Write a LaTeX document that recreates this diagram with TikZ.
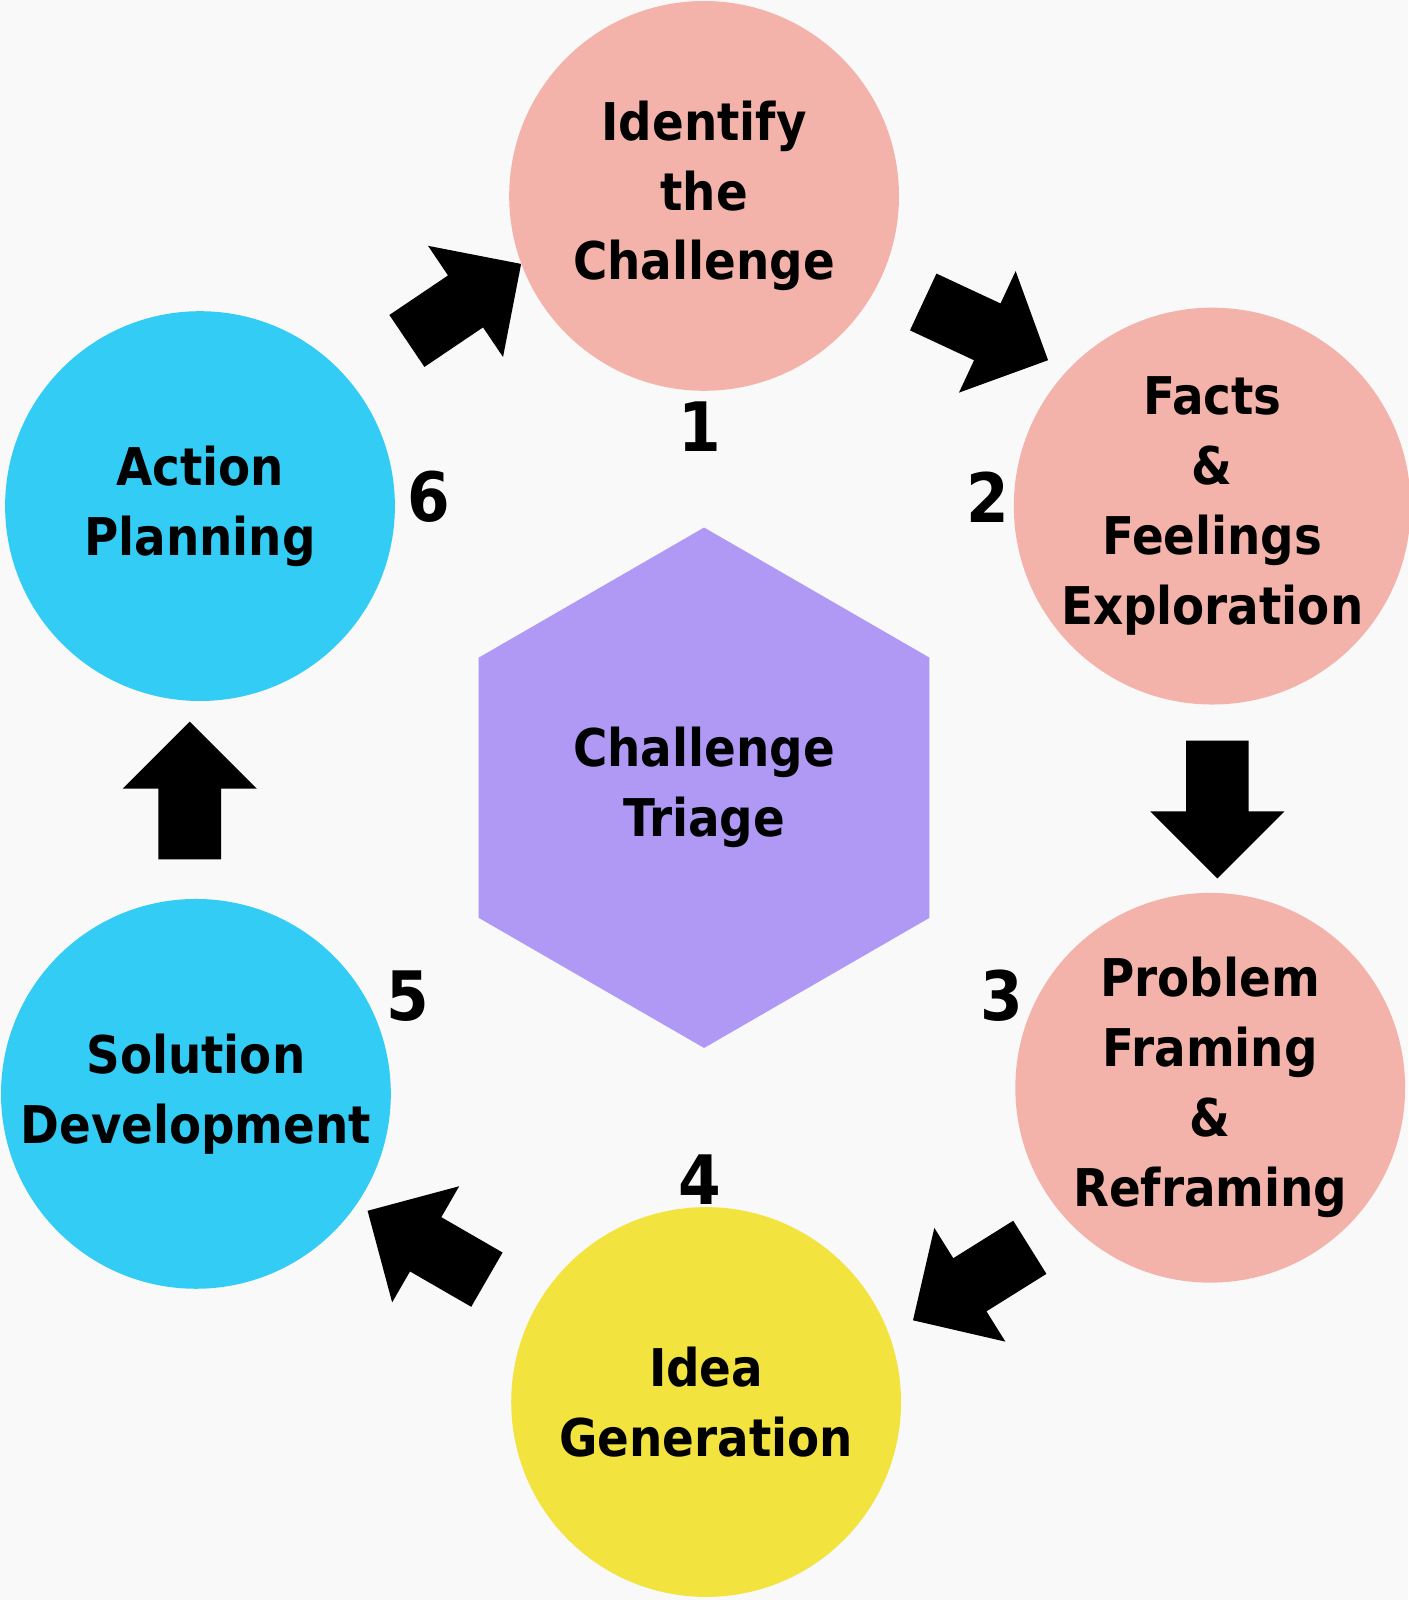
\documentclass[tikz,border=0pt]{standalone}
\usepackage{fontspec}
\setmainfont{DejaVu Sans Condensed}
\usetikzlibrary{shapes.geometric,shapes.arrows}

\definecolor{stagepink}{HTML}{F4B3AA}
\definecolor{stageblue}{HTML}{33CCF5}
\definecolor{stageyellow}{HTML}{F2E33F}
\definecolor{triagepurple}{HTML}{B098F5}

\tikzset{
  stage/.style={circle, minimum size=3.82cm, inner sep=0pt, align=center,
    font=\bfseries\fontsize{14.5}{19.5}\selectfont},
  stepnum/.style={font=\bfseries\fontsize{19}{22}\selectfont},
  flow/.style={single arrow, fill=black, inner sep=0.3cm, minimum height=1.35cm,
    single arrow head extend=0.35cm}
}

\begin{document}
\begin{tikzpicture}

\fill[gray!5] (0,0) rectangle (13.8,15.68);
\useasboundingbox (0,0) rectangle (13.8,15.68);

\node[stage, fill=stagepink] (identify) at (6.90,13.76) {Identify\\the\\Challenge};
\node[stage, fill=stagepink] (facts) at (11.88,10.72) {Facts\\\&\\Feelings\\Exploration};
\node[stage, fill=stagepink] (framing) at (11.86,5.02) {Problem\\Framing\\\&\\Reframing};
\node[stage, fill=stageyellow] (idea) at (6.92,1.94) {Idea\\Generation};
\node[stage, fill=stageblue] (solution) at (1.92,4.96) {Solution\\Development};
\node[stage, fill=stageblue] (action) at (1.96,10.72) {Action\\Planning};

\node[regular polygon, regular polygon sides=6, regular polygon rotate=30,
  minimum size=5.1cm, fill=triagepurple, align=center,
  font=\bfseries\fontsize{14.5}{19.5}\selectfont] (triage) at (6.90,7.96) {Challenge\\Triage};

\node[stepnum] (n1) at (6.86,11.50) {1};
\node[stepnum] (n2) at (9.68,10.81) {2};
\node[stepnum] (n3) at (9.82,5.92) {3};
\node[stepnum] (n4) at (6.86,4.12) {4};
\node[stepnum] (n5) at (4.00,5.92) {5};
\node[stepnum] (n6) at (4.20,10.81) {6};

\node[flow, rotate=34] (a61) at (4.42,12.63) {};
\node[flow, rotate=-25] (a12) at (9.52,12.50) {};
\node[flow, rotate=-90] (a23) at (11.93,7.90) {};
\node[flow, rotate=212] (a34) at (9.65,3.18) {};
\node[flow, rotate=150] (a45) at (4.32,3.40) {};
\node[flow, rotate=90] (a56) at (1.86,7.78) {};

\end{tikzpicture}
\end{document}
